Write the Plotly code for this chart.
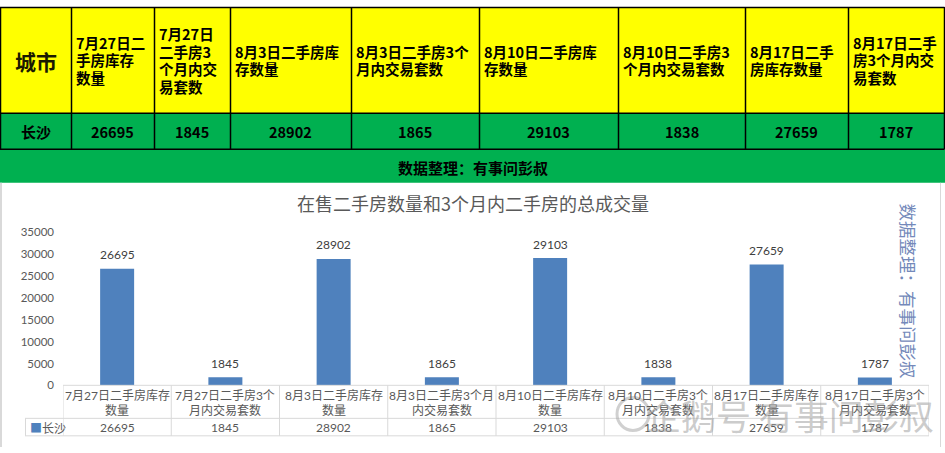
import plotly.graph_objects as go

# ---------------- data ----------------
city = "长沙"
categories = [
    "7月27日二手房库存数量",
    "7月27日二手房3个月内交易套数",
    "8月3日二手房库存数量",
    "8月3日二手房3个月内交易套数",
    "8月10日二手房库存数量",
    "8月10日二手房3个月内交易套数",
    "8月17日二手房库存数量",
    "8月17日二手房3个月内交易套数",
]
values = [26695, 1845, 28902, 1865, 29103, 1838, 27659, 1787]
# category labels as shown under the chart (two lines)
cat_label_lines = [
    ["7月27日二手房库存", "数量"],
    ["7月27日二手房3个", "月内交易套数"],
    ["8月3日二手房库存", "数量"],
    ["8月3日二手房3个月", "内交易套数"],
    ["8月10日二手房库存", "数量"],
    ["8月10日二手房3个", "月内交易套数"],
    ["8月17日二手房库存", "数量"],
    ["8月17日二手房3个", "月内交易套数"],
]
# header texts of the top table, as wrapped there
header_first = "城市"
header_lines = [
    ["7月27日二", "手房库存", "数量"],
    ["7月27日", "二手房3", "个月内交", "易套数"],
    ["8月3日二手房库", "存数量"],
    ["8月3日二手房3个", "月内交易套数"],
    ["8月10日二手房库", "存数量"],
    ["8月10日二手房3", "个月内交易套数"],
    ["8月17日二手", "房库存数量"],
    ["8月17日二手", "房3个月内交", "易套数"],
]
y_ticks = [0, 5000, 10000, 15000, 20000, 25000, 30000, 35000]
chart_title = "在售二手房数量和3个月内二手房的总成交量"
banner_text = "数据整理：有事问彭叔"
side_mark = "数据整理：有事问彭叔"
bottom_mark = "企鹅号 有事问彭叔"

# ---------------- layout helpers ----------------
W, H = 945, 453


def X(px):
    return px / W


def Y(py):
    return 1 - py / H


CJK = "Noto Sans CJK SC"
CHART_FONT = "Lato, Noto Sans CJK SC"
BAR_COLOR = "#4F81BD"
YELLOW = "#FFFF00"
GREEN = "#00B050"
GRID = "#D9D9D9"

col_edges = [0, 71, 154, 230, 351, 479, 618, 745, 848, 944]
plot_left, plot_right = 63, 929
zero_py, top_py = 389.5, 232

fig = go.Figure()
fig.add_trace(go.Bar(
    x=categories, y=values, marker_color=BAR_COLOR, marker_line_width=0,
    name=city, showlegend=False, hoverinfo="x+y",
))

shapes = []
annotations = []

# ---- top table ----
shapes.append(dict(type="rect", xref="paper", yref="paper", x0=0, x1=1,
                   y0=Y(109.5), y1=1, fillcolor=YELLOW, line_width=0, layer="below"))
shapes.append(dict(type="rect", xref="paper", yref="paper", x0=0, x1=1,
                   y0=Y(146.5), y1=Y(109.5), fillcolor=GREEN, line_width=0, layer="below"))
shapes.append(dict(type="rect", xref="paper", yref="paper", x0=0, x1=1,
                   y0=Y(181), y1=Y(146.5), fillcolor=GREEN, line_width=0, layer="below"))
for py in [0.5, 109.5, 146.5]:
    shapes.append(dict(type="line", xref="paper", yref="paper", x0=0, x1=X(944.5),
                       y0=Y(py), y1=Y(py), line=dict(color="black", width=1.5)))
for cx in col_edges:
    px = cx + 0.5
    shapes.append(dict(type="line", xref="paper", yref="paper", x0=X(px), x1=X(px),
                       y0=Y(146.5), y1=Y(0), line=dict(color="black", width=1.5)))

annotations.append(dict(xref="paper", yref="paper", x=X(36), y=Y(56), text=f"<b>{header_first}</b>",
                        showarrow=False, xanchor="center", yanchor="middle",
                        font=dict(family=CJK, size=21, color="#1a1a00")))
for i, lines in enumerate(header_lines):
    left = col_edges[i + 1] + 3
    n_l = len(lines)
    for j, line in enumerate(lines):
        cy = 54.5 + (j - (n_l - 1) / 2) * 18
        annotations.append(dict(xref="paper", yref="paper", x=X(left), y=Y(cy),
                                text=f"<b>{line}</b>", showarrow=False,
                                xanchor="left", yanchor="middle",
                                font=dict(family=CJK, size=14.5, color="black")))
annotations.append(dict(xref="paper", yref="paper", x=X(36), y=Y(128), text=f"<b>{city}</b>",
                        showarrow=False, xanchor="center", yanchor="middle",
                        font=dict(family=CJK, size=15, color="black")))
for i, v in enumerate(values):
    cx = (col_edges[i + 1] + col_edges[i + 2]) / 2
    annotations.append(dict(xref="paper", yref="paper", x=X(cx), y=Y(128), text=f"<b>{v}</b>",
                            showarrow=False, xanchor="center", yanchor="middle",
                            font=dict(family=CJK, size=14.5, color="black")))
annotations.append(dict(xref="paper", yref="paper", x=X(473), y=Y(165), text=f"<b>{banner_text}</b>",
                        showarrow=False, xanchor="center", yanchor="middle",
                        font=dict(family=CJK, size=15, color="black")))

# ---- chart frame ----
shapes.append(dict(type="rect", xref="paper", yref="paper", x0=0, x1=X(2),
                   y0=0, y1=Y(181), fillcolor=GRID, line_width=0, layer="below"))
shapes.append(dict(type="line", xref="paper", yref="paper", x0=X(940.5), x1=X(940.5),
                   y0=0, y1=Y(181), line=dict(color=GRID, width=1)))

# ---- data table under the chart ----
n = len(categories)
shapes.append(dict(type="line", xref="x", yref="paper", x0=-0.5, x1=n - 0.5,
                   y0=Y(zero_py), y1=Y(zero_py), line=dict(color=GRID, width=1)))
for py in [423.5, 441.5]:
    shapes.append(dict(type="line", xref="paper", yref="paper", x0=X(25), x1=X(plot_right),
                       y0=Y(py), y1=Y(py), line=dict(color=GRID, width=1)))
shapes.append(dict(type="line", xref="paper", yref="paper", x0=X(25.5), x1=X(25.5),
                   y0=Y(441.5), y1=Y(423.5), line=dict(color=GRID, width=1)))
for k in range(n + 1):
    shapes.append(dict(type="line", xref="x", yref="paper", x0=k - 0.5, x1=k - 0.5,
                       y0=Y(441.5), y1=Y(zero_py), line=dict(color=GRID, width=1)))

for cat, lines, v in zip(categories, cat_label_lines, values):
    annotations.append(dict(xref="x", yref="paper", x=cat, y=Y(400), text=lines[0],
                            showarrow=False, xanchor="center", yanchor="middle",
                            font=dict(family=CHART_FONT, size=12, color="#595959")))
    annotations.append(dict(xref="x", yref="paper", x=cat, y=Y(415), text=lines[1],
                            showarrow=False, xanchor="center", yanchor="middle",
                            font=dict(family=CHART_FONT, size=12, color="#595959")))
    annotations.append(dict(xref="x", yref="paper", x=cat, y=Y(432.5), text=str(v),
                            showarrow=False, xanchor="center", yanchor="middle",
                            font=dict(family=CHART_FONT, size=12, color="#595959")))
    # data labels above the bars
    annotations.append(dict(xref="x", yref="y", x=cat, y=v, text=str(v), yshift=14,
                            showarrow=False, xanchor="center", yanchor="middle",
                            font=dict(family=CHART_FONT, size=12, color="#404040")))

annotations.append(dict(xref="paper", yref="paper", x=X(28), y=Y(432.5),
                        text=f"<span style='color:{BAR_COLOR}'>■</span>{city}",
                        showarrow=False, xanchor="left", yanchor="middle",
                        font=dict(family=CJK, size=12, color="#595959")))

# ---- title ----
annotations.append(dict(xref="paper", yref="paper", x=X(473), y=Y(202), text=chart_title,
                        showarrow=False, xanchor="center", yanchor="middle",
                        font=dict(family=CJK, size=18, color="#595959")))

# ---- watermarks ----
annotations.append(dict(xref="paper", yref="paper", x=X(908), y=Y(292), text=side_mark,
                        textangle=90, showarrow=False, xanchor="center", yanchor="middle",
                        font=dict(family=CJK, size=17.5, color="#7489BA")))
annotations.append(dict(xref="paper", yref="paper", x=X(790), y=Y(420), text=bottom_mark,
                        showarrow=False, xanchor="center", yanchor="middle",
                        font=dict(family=CJK, size=35, color="rgba(160,160,160,0.55)")))
shapes.append(dict(type="circle", xref="paper", yref="paper", x0=X(617), x1=X(649),
                   y0=Y(436), y1=Y(402), line=dict(color="rgba(170,170,170,0.55)", width=3)))

fig.update_layout(
    width=W, height=H,
    margin=dict(l=0, r=0, t=0, b=0),
    paper_bgcolor="white", plot_bgcolor="white",
    bargap=1 - 34 / ((plot_right - plot_left) / n),
    xaxis=dict(domain=[X(plot_left), X(plot_right)], range=[-0.5, n - 0.5],
               showticklabels=False, showgrid=False, zeroline=False, showline=False,
               ticks="", fixedrange=True),
    yaxis=dict(domain=[Y(zero_py), Y(top_py)], range=[0, 35000],
               tickvals=y_ticks, ticktext=[str(t) for t in y_ticks],
               showgrid=False, zeroline=False, showline=False, ticks="",
               ticklabelstandoff=8,
               tickfont=dict(family=CHART_FONT, size=11.5, color="#595959"),
               fixedrange=True),
    shapes=shapes, annotations=annotations,
    font=dict(family=CHART_FONT),
)

fig.write_html("out.html")
